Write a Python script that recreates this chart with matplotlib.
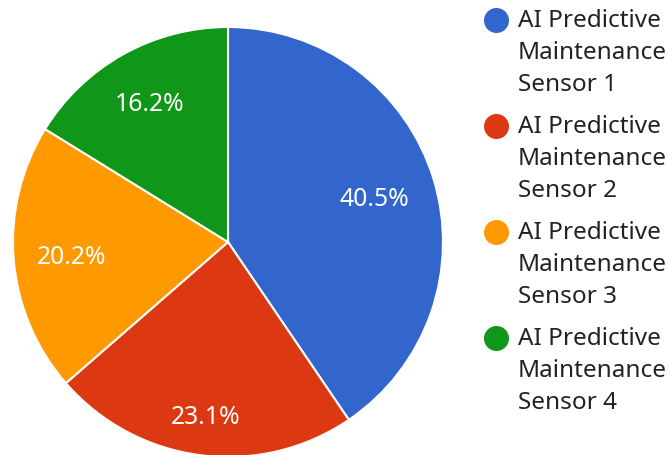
import matplotlib
matplotlib.use("Agg")
import numpy as np
import matplotlib.pyplot as plt
from matplotlib.lines import Line2D

labels = ["AI Predictive Maintenance Sensor 1", "AI Predictive Maintenance Sensor 2",
          "AI Predictive Maintenance Sensor 3", "AI Predictive Maintenance Sensor 4"]
values = [40.5, 23.1, 20.2, 16.2]
colors = ["#3366CC", "#DC3912", "#FF9900", "#109618"]
label_dist = [0.712, 0.809, 0.728, 0.748]

plt.rcParams['font.family'] = ['Noto Sans', 'DejaVu Sans']

W, H = 669, 455
fig = plt.figure(figsize=(W / 100, H / 100), dpi=100)
cx, cy, r = 228, 242, 215
ax = fig.add_axes([(cx - r) / W, (H - cy - r) / H, 2 * r / W, 2 * r / H])
wedges, texts, autotexts = ax.pie(values, colors=colors, startangle=90, counterclock=False,
                                  autopct='%1.1f%%', pctdistance=0.71,
                                  wedgeprops=dict(edgecolor='white', linewidth=1.5),
                                  textprops=dict(color='white', fontsize=17.8))
for w, t, d in zip(wedges, autotexts, label_dist):
    ang = np.deg2rad((w.theta1 + w.theta2) / 2)
    t.set_position((d * np.cos(ang), d * np.sin(ang)))
    t.set_va('center_baseline')
ax.set_xlim(-1, 1)
ax.set_ylim(-1, 1)
ax.set_aspect('equal')
ax.axis('off')

# legend
for i, (lab, col) in enumerate(zip(labels, colors)):
    y0 = 20 + 106 * i
    fig.add_artist(Line2D([496 / W], [1 - y0 / H], marker='o', markersize=18,
                          color=col, markeredgewidth=0, transform=fig.transFigure))
    words = lab.split(" ")
    lines = [" ".join(words[:2]), words[2], " ".join(words[3:])]
    for j, ln in enumerate(lines):
        fig.text(518 / W, 1 - (y0 - 2 + 32 * j) / H, ln, va='center_baseline', ha='left',
                 fontsize=17.5, color='#222222')

fig.savefig("out.png", dpi=100)
